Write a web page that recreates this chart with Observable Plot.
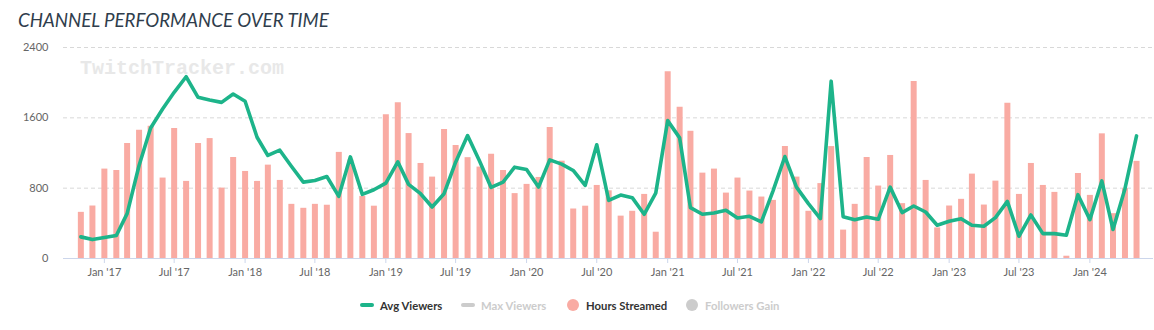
<!DOCTYPE html>
<html>
<head>
<meta charset="utf-8">
<script src="https://cdn.jsdelivr.net/npm/d3@7"></script>
<script src="https://cdn.jsdelivr.net/npm/@observablehq/plot@0.6"></script>
<style>
  html, body { margin: 0; padding: 0; background: #fff; }
  body { width: 1154px; height: 330px; position: relative; overflow: hidden; font-family: Lato, "Open Sans", sans-serif; }
  #title { position: absolute; left: 18px; top: 9px; font-family: Lato, sans-serif; font-style: italic; font-size: 18.7px; color: #2f3d4c; white-space: nowrap; }
  #watermark { position: absolute; left: 80px; top: 57px; font-family: "Liberation Mono", "DejaVu Sans Mono", monospace; font-weight: bold; font-size: 20px; color: #e8e8e8; z-index: 0; white-space: nowrap; }
  #chart { position: absolute; left: 0; top: 36px; z-index: 1; }
  #legend { position: absolute; left: 0; top: 296px; width: 1154px; height: 18px; font-family: Lato, sans-serif; font-size: 11.3px; font-weight: bold; }
  .li { position: absolute; top: 0; height: 18px; display: flex; align-items: center; white-space: nowrap; }
  .sym-line { width: 14px; height: 4px; border-radius: 2px; margin-right: 6px; }
  .sym-dot { width: 12px; height: 12px; border-radius: 6px; margin-right: 7px; }
</style>
</head>
<body>
<div id="title">CHANNEL PERFORMANCE OVER TIME</div>
<div id="watermark">TwitchTracker.com</div>
<div id="chart"></div>
<div id="legend"></div>
<script>
const months = [
  "2016-11","2016-12",
  "2017-01","2017-02","2017-03","2017-04","2017-05","2017-06","2017-07","2017-08","2017-09","2017-10","2017-11","2017-12",
  "2018-01","2018-02","2018-03","2018-04","2018-05","2018-06","2018-07","2018-08","2018-09","2018-10","2018-11","2018-12",
  "2019-01","2019-02","2019-03","2019-04","2019-05","2019-06","2019-07","2019-08","2019-09","2019-10","2019-11","2019-12",
  "2020-01","2020-02","2020-03","2020-04","2020-05","2020-06","2020-07","2020-08","2020-09","2020-10","2020-11","2020-12",
  "2021-01","2021-02","2021-03","2021-04","2021-05","2021-06","2021-07","2021-08","2021-09","2021-10","2021-11","2021-12",
  "2022-01","2022-02","2022-03","2022-04","2022-05","2022-06","2022-07","2022-08","2022-09","2022-10","2022-11","2022-12",
  "2023-01","2023-02","2023-03","2023-04","2023-05","2023-06","2023-07","2023-08","2023-09","2023-10","2023-11","2023-12",
  "2024-01","2024-02","2024-03","2024-04","2024-05"
];
const hoursStreamed = [
  525, 597,
  1017, 1001, 1308, 1459, 1504, 915, 1478, 877, 1308, 1364, 801, 1149,
  990, 877, 1062, 888, 616, 571, 616, 606, 1207, 1120, 706, 595,
  1636, 1772, 1421, 1081, 926, 1466, 1285, 1147, 1040, 1186, 1001, 738,
  843, 922, 1489, 1107, 563, 595, 831, 770, 482, 537, 729, 299,
  2124, 1719, 1447, 971, 1017, 744, 915, 767, 699, 661, 1274, 926,
  537, 852, 1273, 323, 616, 1149, 824, 1172, 624, 2014, 888, 348,
  597, 673, 960, 608, 880, 1765, 729, 1081, 831, 752, 26, 967,
  718, 1418, 510, 794, 1105
];
const avgViewers = [
  246, 215,
  238, 261, 510, 1058, 1485, 1700, 1890, 2067, 1833, 1803, 1776, 1871,
  1788, 1379, 1172, 1232, 1050, 869, 888, 933, 707, 1156, 729, 782,
  858, 1100, 843, 737, 586, 737, 1096, 1398, 1110, 808, 869, 1039,
  1013, 812, 1122, 1073, 1001, 831, 1294, 661, 722, 692, 503, 744,
  1568, 1372, 578, 503, 518, 548, 461, 480, 416, 767, 1160, 812,
  624, 453, 2017, 476, 440, 472, 446, 812, 522, 597, 529, 378,
  423, 453, 378, 367, 465, 650, 253, 495, 283, 283, 265, 726,
  442, 882, 330, 794, 1394
];
const yTicks = [0, 800, 1600, 2400];
const xTickMonths = ["2017-01","2017-07","2018-01","2018-07","2019-01","2019-07","2020-01","2020-07",
  "2021-01","2021-07","2022-01","2022-07","2023-01","2023-07","2024-01"];
const xDomain = ["2016-09-17", "2024-06-14"];
const legendItems = [
  {label: "Avg Viewers", color: "#1db48a", text: "#333", kind: "line", left: 360},
  {label: "Max Viewers", color: "#cccccc", text: "#cccccc", kind: "line", left: 461},
  {label: "Hours Streamed", color: "#f9aba3", text: "#333", kind: "dot", left: 567},
  {label: "Followers Gain", color: "#cccccc", text: "#cccccc", kind: "dot", left: 686}
];

const parseMonth = s => new Date(s + "-01T00:00:00Z");
const data = months.map((m, i) => ({date: parseMonth(m), hours: hoursStreamed[i], avg: avgViewers[i]}));
const fmtMonth = d3.utcFormat("%b");
const fmtYear = d3.utcFormat("%y");

const chart = Plot.plot({
  width: 1154,
  height: 250,
  marginLeft: 63,
  marginRight: 1,
  marginTop: 11,
  marginBottom: 28,
  style: {fontFamily: "Lato, sans-serif", fontSize: "11px", color: "#666", background: "transparent"},
  x: {type: "utc", domain: xDomain.map(s => new Date(s + "T00:00:00Z"))},
  y: {domain: [0, 2400]},
  marks: [
    Plot.gridY(yTicks.filter(v => v > 0), {stroke: "#d8d8d8", strokeOpacity: 1, strokeDasharray: "4,3"}),
    Plot.ruleX(data, {x: "date", y1: 0, y2: "hours", stroke: "#f9aba3", strokeWidth: 6}),
    Plot.ruleY([0], {stroke: "#ccd6eb"}),
    Plot.axisX({ticks: xTickMonths.map(parseMonth), tickSize: 5, tickPadding: 5, stroke: "#ccd6eb",
      tickFormat: d => `${fmtMonth(d)} '${fmtYear(d)}`, fill: "#666"}),
    Plot.axisY({ticks: yTicks, tickSize: 0, tickPadding: 15, tickFormat: d => String(d), fill: "#666"}),
    Plot.line(data, {x: "date", y: "avg", stroke: "#1db48a", strokeWidth: 3.6, strokeLinejoin: "round", strokeLinecap: "round"})
  ]
});
document.getElementById("chart").appendChild(chart);

const legend = document.getElementById("legend");
for (const it of legendItems) {
  const el = document.createElement("div");
  el.className = "li";
  el.style.left = it.left + "px";
  const sym = document.createElement("div");
  sym.className = it.kind === "line" ? "sym-line" : "sym-dot";
  sym.style.background = it.color;
  const tx = document.createElement("span");
  tx.textContent = it.label;
  tx.style.color = it.text;
  el.appendChild(sym);
  el.appendChild(tx);
  legend.appendChild(el);
}
</script>
</body>
</html>
